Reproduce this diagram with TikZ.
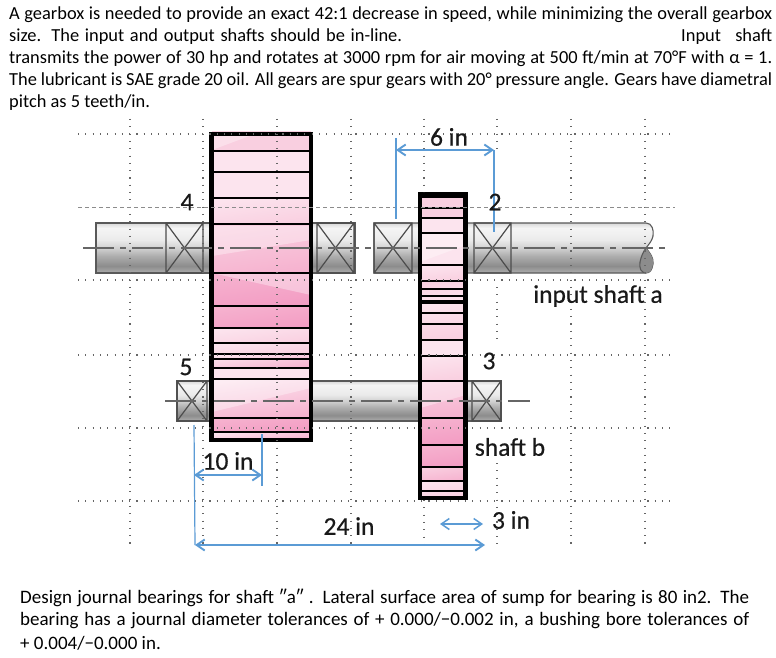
\documentclass[tikz,border=0pt]{standalone}
\usepackage{fontspec}
\setmainfont{Carlito}
\newfontfamily\lblfont[FakeBold=0.5]{Carlito}
\usetikzlibrary{arrows.meta}
\pgfdeclareverticalshading{shaftshade}{100bp}{color(0bp)=(white!60!black); color(25bp)=(white!68!black); color(32bp)=(white!55!black); color(42bp)=(white!68!black); color(50bp)=(white!82!black); color(58bp)=(white!92!black); color(70bp)=(white!96!black); color(75bp)=(white!85!black); color(100bp)=(white!85!black)}
\definecolor{dimblue}{HTML}{5B9BD5}
\definecolor{pa}{HTML}{FCE4EE}
\definecolor{pb}{HTML}{F9CFE0}
\definecolor{pc}{HTML}{F6B2CF}
\definecolor{pd}{HTML}{F39CC3}
\tikzset{
  txt/.style={anchor=base west,inner sep=0pt,font=\fontsize{18.4}{20}\selectfont,text=black},
  txtb/.style={anchor=base west,inner sep=0pt,font=\fontsize{19}{21}\selectfont,text=black},
  lbl/.style={inner sep=0pt,font=\lblfont\fontsize{25.5}{27}\selectfont,text=black!90},
  griddot/.style={line width=1.1pt,black!60,dash pattern=on 1.1pt off 6.2pt},
  griddash/.style={line width=.9pt,black!45,dash pattern=on 4pt off 3pt},
  shaftpart/.style={shading=shaftshade,draw=black!65,line width=1.1pt},
  centre/.style={line width=1.1pt,black!60,dash pattern=on 31pt off 6pt on 6pt off 6pt},
  bearing/.style={draw=black!70,line width=1.2pt},
  gearframe/.style={draw=black,line width=4.4pt},
  gearbar/.style={draw=black,line width=2.6pt},
  streak/.style={white,opacity=.35},
  dimline/.style={dimblue,line width=1.2pt},
  dimarrow/.style={dimblue,line width=1.9pt,{Straight Barb[length=8pt,width=11pt]}-{Straight Barb[length=8pt,width=11pt]}}
}
\begin{document}
\begin{tikzpicture}[x=1pt,y=-1pt]
\useasboundingbox (0,0) rectangle (776,658);
\fill[white] (0,0) rectangle (776,658);
% shafts
\path[shaftpart] (96,223) rectangle (355,273);
\path[shaftpart] (374,223) -- (646,223) .. controls (652,223) and (654,230) .. (653,236) .. controls (652,241) and (649,244) .. (646,248) .. controls (650,253) and (654,258) .. (653,264) .. controls (652,270) and (650,273) .. (646,273) -- (374,273) -- cycle;
\fill[black!45] (646,248) .. controls (650,253) and (654,258) .. (653,264) .. controls (652,270) and (650,273) .. (646,273) .. controls (641,273) and (639,268) .. (640,262) .. controls (641,257) and (643,252) .. (646,248) -- cycle;
\draw[black!65,line width=1.1pt] (646,248) .. controls (643,252) and (641,257) .. (640,262) .. controls (639,268) and (641,273) .. (646,273);
\path[shaftpart] (177,381) rectangle (501,421);
% bearings
\foreach \xa/\xb/\ya/\yb in {166/203/223/273,317/354/223/273,374/412/223/273,474/511/223/273,177/207/381/421,472/501/381/421}{
  \draw[bearing] (\xa,\ya) rectangle (\xb,\yb) (\xa,\ya) -- (\xb,\yb) (\xa,\yb) -- (\xb,\ya);
}
% gear 1 bands
\foreach \ya/\yb/\ca/\cb in {132/151/pb/pb,151/172/pa/pa,172/198/pa/pa,198/224/pa/pb,224/273/pb/pc,273/306/pc/pd,306/329/pc/pd,329/343/pa/pb,343/354/pa/pb,354/368/pa/pc,368/379/pa/pa,379/418/pa/pc,418/432/pc/pd,432/440/pa/pc}{
  \shade[top color=\ca,bottom color=\cb,shading angle=8] (212,\ya) rectangle (311,\yb);
}
\fill[streak] (212,256) -- (311,240) -- (311,226) -- (212,226) -- cycle;
\fill[streak] (212,273) -- (311,295) -- (311,273) -- cycle;
\fill[streak] (212,412) -- (311,388) -- (311,379) -- (212,379) -- cycle;
\fill[streak] (212,150) -- (260,132) -- (212,132) -- cycle;
\foreach \y in {151,172,198,224,273,306,328,343,354,368,379,418,432}{
  \draw[gearbar] (212,\y) -- (311,\y);
}
\draw[gearbar,line width=1.3pt] (212,359) -- (311,359);
\draw[gearframe] (211.5,134) rectangle (311,440);
% gear 2 bands
\foreach \ya/\yb/\ca/\cb in {192/218/pb/pb,218/233/pa/pa,233/265/pa/pa,265/281/pa/pb,281/302/pb/pa,302/340/pa/pb,340/356/pa/pa,356/381/pa/pb,381/418/pb/pc,418/445/pc/pd,445/467/pc/pd,467/481/pb/pc,481/498/pa/pb}{
  \shade[top color=\ca,bottom color=\cb,shading angle=8] (420,\ya) rectangle (466,\yb);
}
\fill[streak] (420,262) -- (466,245) -- (466,233) -- (420,233) -- cycle;
\fill[streak] (420,408) -- (466,395) -- (466,381) -- (420,381) -- cycle;
\foreach \y in {197,208,218,233,265,281,289,296,313,324,340,356,381,418,445,467,481,491}{
  \draw[gearbar] (420,\y) -- (466,\y);
}
\draw[gearbar,line width=4pt] (420,302) -- (466,302);
\draw[gearframe] (420,194) rectangle (465.5,498);
% centre lines
\draw[centre] (83,248) -- (665,248);
\draw[centre] (165,401) -- (530,401);
% grid
\foreach \x in {130,203,277,351,571,645}{\draw[griddot] (\x,119) -- (\x,545);}
\draw[griddot] (424,119) -- (424,192);
\draw[griddot] (424,500) -- (424,545);
\draw[griddot] (497,119) -- (497,150);
\draw[griddot] (497,287) -- (497,345);
\draw[griddot] (497,463) -- (497,545);
\foreach \y in {134,280,355,428,501}{\draw[griddot] (78,\y) -- (675,\y);}
\draw[griddash] (78,207) -- (675,207);
% dimensions
\coordinate (d6a) at (396,150); \coordinate (d6b) at (494,150);
\coordinate (d6at) at (396,138); \coordinate (d6ab) at (396,219);
\coordinate (d6bb) at (494,232);
\coordinate (d10a) at (194,475); \coordinate (d10b) at (262,475);
\coordinate (d10t) at (262,434); \coordinate (d10e) at (262,486);
\coordinate (d24t) at (194,425); \coordinate (d24a) at (195,545); \coordinate (d24b) at (485,545);
\coordinate (d3a) at (440,524); \coordinate (d3b) at (483,524);
\draw[dimline] (d6at) -- (d6ab);
\draw[dimline] (d6b) -- (d6bb);
\draw[dimline] (d10t) -- (d10e);
\draw[dimline] (d24t) -- (d24a);
\draw[dimarrow] (d6a) -- (d6b);
\draw[dimarrow] (d10a) -- (d10b);
\draw[dimarrow] (d24a) -- (d24b);
\draw[dimarrow,line width=1.5pt] (d3a) -- (d3b);
% labels
\node[lbl] (l6) at (449,137) {6 in};
\node[lbl] (l4) at (187,202) {4};
\node[lbl] (l2) at (495,202) {2};
\node[lbl] (l5) at (186,367) {5};
\node[lbl] (l3) at (489,361) {3};
\node[lbl] (lia) at (598,296) {input shaft a};
\node[lbl] (lsb) at (510,447) {shaft b};
\node[lbl] (l10) at (228,461) {10 in};
\node[lbl] (l24) at (349,526) {24 in};
\node[lbl] (l3in) at (511,520) {3 in};
% text
\node[txt] (t1) at (9,20) {\makebox[763pt][s]{A gearbox is needed to provide an exact 42:1 decrease in speed, while minimizing the overall gearbox}};
\node[txt] (t2) at (9,42) {\makebox[393pt][s]{size. The input and output shafts should be in-line.}};
\node[txt] (t2b) at (681,42) {\makebox[91pt][s]{Input shaft}};
\node[txt] (t3) at (9,64) {\makebox[763pt][s]{transmits the power of 30 hp and rotates at 3000 rpm for air moving at 500 ft/min at 70°F with α = 1.}};
\node[txt] (t4) at (9,86) {\makebox[763pt][s]{The lubricant is SAE grade 20 oil.  All gears are spur gears with 20° pressure angle. Gears have diametral}};
\node[txt] (t5) at (9,108) {pitch as 5 teeth/in.};
\node[txtb] (b1) at (20,603) {\makebox[729pt][s]{Design journal bearings for shaft ″a″ .  Lateral surface area of sump for bearing is 80 in2. The}};
\node[txtb] (b2) at (20,625) {\makebox[729pt][s]{bearing has a journal diameter  tolerances of + 0.000/−0.002 in, a bushing bore tolerances of}};
\node[txtb] (b3) at (20,649) {+ 0.004/−0.000 in.};
\end{tikzpicture}
\end{document}
